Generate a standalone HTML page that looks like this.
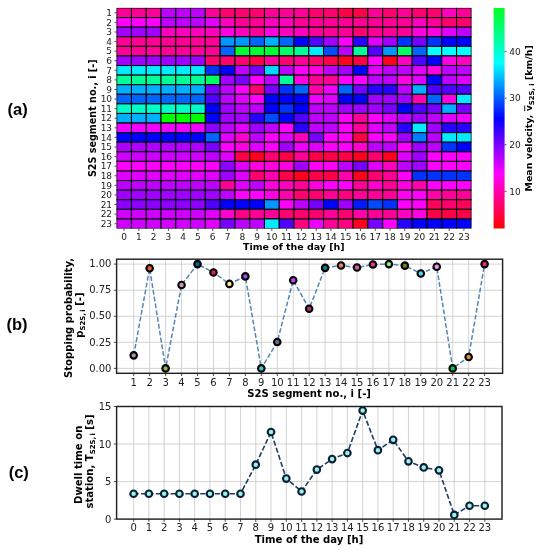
<!DOCTYPE html>
<html><head><meta charset="utf-8"><title>figure</title>
<style>
html,body{margin:0;padding:0;background:#fff;}
svg{display:block;}
text{font-family:"DejaVu Sans","Liberation Sans",sans-serif;fill:#222;}
.t{font-size:9.0px;}
.b{font-size:9.45px;font-weight:bold;fill:#000;}
.b2{font-size:10.1px;font-weight:bold;fill:#000;}
.t2{font-size:10px;}
.s2{font-size:6.9px;font-weight:bold;fill:#000;}
.s{font-size:6.8px;font-weight:bold;fill:#000;}
.p{font-family:"Liberation Sans",sans-serif;font-size:16.5px;font-weight:bold;fill:#000;}
</style></head><body>
<svg width="540" height="550" viewBox="0 0 540 550">
<defs><clipPath id="hc"><rect x="116.40" y="7.70" width="355.20" height="220.80"/></clipPath>
<linearGradient id="cb" x1="0" y1="1" x2="0" y2="0"><stop offset="0" stop-color="#ff0000"/><stop offset="0.25" stop-color="#ff00ff"/><stop offset="0.5" stop-color="#0000ff"/><stop offset="0.75" stop-color="#00ffff"/><stop offset="1" stop-color="#00ff20"/></linearGradient></defs>
<rect width="540" height="550" fill="#fff"/>
<g clip-path="url(#hc)" stroke="#000" stroke-width="1.05">
<rect x="116.70" y="8.00" width="14.78" height="9.59" fill="#ff0096"/><rect x="131.47" y="8.00" width="14.78" height="9.59" fill="#ff0096"/><rect x="146.25" y="8.00" width="14.78" height="9.59" fill="#ff0096"/><rect x="161.03" y="8.00" width="14.78" height="9.59" fill="#be00ff"/><rect x="175.80" y="8.00" width="14.78" height="9.59" fill="#be00ff"/><rect x="190.57" y="8.00" width="14.78" height="9.59" fill="#be00ff"/><rect x="205.35" y="8.00" width="14.78" height="9.59" fill="#ff0096"/><rect x="220.12" y="8.00" width="14.78" height="9.59" fill="#ff006e"/><rect x="234.90" y="8.00" width="14.78" height="9.59" fill="#ff006e"/><rect x="249.68" y="8.00" width="14.78" height="9.59" fill="#ff006e"/><rect x="264.45" y="8.00" width="14.78" height="9.59" fill="#ff0096"/><rect x="279.23" y="8.00" width="14.78" height="9.59" fill="#ff0096"/><rect x="294.00" y="8.00" width="14.78" height="9.59" fill="#ff0096"/><rect x="308.78" y="8.00" width="14.78" height="9.59" fill="#ff006e"/><rect x="323.55" y="8.00" width="14.78" height="9.59" fill="#ff006e"/><rect x="338.32" y="8.00" width="14.78" height="9.59" fill="#ff0046"/><rect x="353.10" y="8.00" width="14.78" height="9.59" fill="#ff0046"/><rect x="367.88" y="8.00" width="14.78" height="9.59" fill="#ff0096"/><rect x="382.65" y="8.00" width="14.78" height="9.59" fill="#ff006e"/><rect x="397.43" y="8.00" width="14.78" height="9.59" fill="#ff0096"/><rect x="412.20" y="8.00" width="14.78" height="9.59" fill="#ff006e"/><rect x="426.98" y="8.00" width="14.78" height="9.59" fill="#ff006e"/><rect x="441.75" y="8.00" width="14.78" height="9.59" fill="#ff00be"/><rect x="456.52" y="8.00" width="14.78" height="9.59" fill="#ff0096"/>
<rect x="116.70" y="17.59" width="14.78" height="9.59" fill="#ff00ff"/><rect x="131.47" y="17.59" width="14.78" height="9.59" fill="#ff00ff"/><rect x="146.25" y="17.59" width="14.78" height="9.59" fill="#ff00ff"/><rect x="161.03" y="17.59" width="14.78" height="9.59" fill="#be00ff"/><rect x="175.80" y="17.59" width="14.78" height="9.59" fill="#be00ff"/><rect x="190.57" y="17.59" width="14.78" height="9.59" fill="#be00ff"/><rect x="205.35" y="17.59" width="14.78" height="9.59" fill="#e100ff"/><rect x="220.12" y="17.59" width="14.78" height="9.59" fill="#ff00be"/><rect x="234.90" y="17.59" width="14.78" height="9.59" fill="#ff0096"/><rect x="249.68" y="17.59" width="14.78" height="9.59" fill="#ff0096"/><rect x="264.45" y="17.59" width="14.78" height="9.59" fill="#ff00be"/><rect x="279.23" y="17.59" width="14.78" height="9.59" fill="#ff00be"/><rect x="294.00" y="17.59" width="14.78" height="9.59" fill="#ff0096"/><rect x="308.78" y="17.59" width="14.78" height="9.59" fill="#ff0096"/><rect x="323.55" y="17.59" width="14.78" height="9.59" fill="#ff0096"/><rect x="338.32" y="17.59" width="14.78" height="9.59" fill="#ff0096"/><rect x="353.10" y="17.59" width="14.78" height="9.59" fill="#ff0096"/><rect x="367.88" y="17.59" width="14.78" height="9.59" fill="#ff0096"/><rect x="382.65" y="17.59" width="14.78" height="9.59" fill="#ff0096"/><rect x="397.43" y="17.59" width="14.78" height="9.59" fill="#ff0096"/><rect x="412.20" y="17.59" width="14.78" height="9.59" fill="#ff00be"/><rect x="426.98" y="17.59" width="14.78" height="9.59" fill="#ff0096"/><rect x="441.75" y="17.59" width="14.78" height="9.59" fill="#ff006e"/><rect x="456.52" y="17.59" width="14.78" height="9.59" fill="#ff006e"/>
<rect x="116.70" y="27.17" width="14.78" height="9.59" fill="#a000ff"/><rect x="131.47" y="27.17" width="14.78" height="9.59" fill="#a000ff"/><rect x="146.25" y="27.17" width="14.78" height="9.59" fill="#a000ff"/><rect x="161.03" y="27.17" width="14.78" height="9.59" fill="#ff00be"/><rect x="175.80" y="27.17" width="14.78" height="9.59" fill="#ff00be"/><rect x="190.57" y="27.17" width="14.78" height="9.59" fill="#ff00be"/><rect x="205.35" y="27.17" width="14.78" height="9.59" fill="#ff00be"/><rect x="220.12" y="27.17" width="14.78" height="9.59" fill="#ff00e1"/><rect x="234.90" y="27.17" width="14.78" height="9.59" fill="#ff00be"/><rect x="249.68" y="27.17" width="14.78" height="9.59" fill="#ff0096"/><rect x="264.45" y="27.17" width="14.78" height="9.59" fill="#ff00e1"/><rect x="279.23" y="27.17" width="14.78" height="9.59" fill="#ff00be"/><rect x="294.00" y="27.17" width="14.78" height="9.59" fill="#ff00be"/><rect x="308.78" y="27.17" width="14.78" height="9.59" fill="#ff0096"/><rect x="323.55" y="27.17" width="14.78" height="9.59" fill="#ff0096"/><rect x="338.32" y="27.17" width="14.78" height="9.59" fill="#ff0096"/><rect x="353.10" y="27.17" width="14.78" height="9.59" fill="#ff006e"/><rect x="367.88" y="27.17" width="14.78" height="9.59" fill="#ff0096"/><rect x="382.65" y="27.17" width="14.78" height="9.59" fill="#ff0096"/><rect x="397.43" y="27.17" width="14.78" height="9.59" fill="#ff0096"/><rect x="412.20" y="27.17" width="14.78" height="9.59" fill="#ff00e1"/><rect x="426.98" y="27.17" width="14.78" height="9.59" fill="#ff00e1"/><rect x="441.75" y="27.17" width="14.78" height="9.59" fill="#e100ff"/><rect x="456.52" y="27.17" width="14.78" height="9.59" fill="#be00ff"/>
<rect x="116.70" y="36.76" width="14.78" height="9.59" fill="#ff0096"/><rect x="131.47" y="36.76" width="14.78" height="9.59" fill="#ff0096"/><rect x="146.25" y="36.76" width="14.78" height="9.59" fill="#ff0096"/><rect x="161.03" y="36.76" width="14.78" height="9.59" fill="#ff0096"/><rect x="175.80" y="36.76" width="14.78" height="9.59" fill="#ff0096"/><rect x="190.57" y="36.76" width="14.78" height="9.59" fill="#ff0096"/><rect x="205.35" y="36.76" width="14.78" height="9.59" fill="#ff0096"/><rect x="220.12" y="36.76" width="14.78" height="9.59" fill="#0096ff"/><rect x="234.90" y="36.76" width="14.78" height="9.59" fill="#0096ff"/><rect x="249.68" y="36.76" width="14.78" height="9.59" fill="#0064ff"/><rect x="264.45" y="36.76" width="14.78" height="9.59" fill="#00afff"/><rect x="279.23" y="36.76" width="14.78" height="9.59" fill="#0064ff"/><rect x="294.00" y="36.76" width="14.78" height="9.59" fill="#0000ff"/><rect x="308.78" y="36.76" width="14.78" height="9.59" fill="#5000ff"/><rect x="323.55" y="36.76" width="14.78" height="9.59" fill="#a000ff"/><rect x="338.32" y="36.76" width="14.78" height="9.59" fill="#ff00ff"/><rect x="353.10" y="36.76" width="14.78" height="9.59" fill="#2800ff"/><rect x="367.88" y="36.76" width="14.78" height="9.59" fill="#e100ff"/><rect x="382.65" y="36.76" width="14.78" height="9.59" fill="#a000ff"/><rect x="397.43" y="36.76" width="14.78" height="9.59" fill="#0032ff"/><rect x="412.20" y="36.76" width="14.78" height="9.59" fill="#7800ff"/><rect x="426.98" y="36.76" width="14.78" height="9.59" fill="#0032ff"/><rect x="441.75" y="36.76" width="14.78" height="9.59" fill="#0000ff"/><rect x="456.52" y="36.76" width="14.78" height="9.59" fill="#0000ff"/>
<rect x="116.70" y="46.35" width="14.78" height="9.59" fill="#ff0096"/><rect x="131.47" y="46.35" width="14.78" height="9.59" fill="#ff0096"/><rect x="146.25" y="46.35" width="14.78" height="9.59" fill="#ff0096"/><rect x="161.03" y="46.35" width="14.78" height="9.59" fill="#ff0096"/><rect x="175.80" y="46.35" width="14.78" height="9.59" fill="#ff0096"/><rect x="190.57" y="46.35" width="14.78" height="9.59" fill="#ff0096"/><rect x="205.35" y="46.35" width="14.78" height="9.59" fill="#ff0096"/><rect x="220.12" y="46.35" width="14.78" height="9.59" fill="#0064ff"/><rect x="234.90" y="46.35" width="14.78" height="9.59" fill="#00ff32"/><rect x="249.68" y="46.35" width="14.78" height="9.59" fill="#00ff32"/><rect x="264.45" y="46.35" width="14.78" height="9.59" fill="#00ff32"/><rect x="279.23" y="46.35" width="14.78" height="9.59" fill="#00ff64"/><rect x="294.00" y="46.35" width="14.78" height="9.59" fill="#00ff96"/><rect x="308.78" y="46.35" width="14.78" height="9.59" fill="#00ebff"/><rect x="323.55" y="46.35" width="14.78" height="9.59" fill="#004bff"/><rect x="338.32" y="46.35" width="14.78" height="9.59" fill="#be00ff"/><rect x="353.10" y="46.35" width="14.78" height="9.59" fill="#00ff96"/><rect x="367.88" y="46.35" width="14.78" height="9.59" fill="#5000ff"/><rect x="382.65" y="46.35" width="14.78" height="9.59" fill="#0096ff"/><rect x="397.43" y="46.35" width="14.78" height="9.59" fill="#00ff64"/><rect x="412.20" y="46.35" width="14.78" height="9.59" fill="#0064ff"/><rect x="426.98" y="46.35" width="14.78" height="9.59" fill="#00ffff"/><rect x="441.75" y="46.35" width="14.78" height="9.59" fill="#00ffff"/><rect x="456.52" y="46.35" width="14.78" height="9.59" fill="#00ffff"/>
<rect x="116.70" y="55.93" width="14.78" height="9.59" fill="#a000ff"/><rect x="131.47" y="55.93" width="14.78" height="9.59" fill="#a000ff"/><rect x="146.25" y="55.93" width="14.78" height="9.59" fill="#a000ff"/><rect x="161.03" y="55.93" width="14.78" height="9.59" fill="#a000ff"/><rect x="175.80" y="55.93" width="14.78" height="9.59" fill="#a000ff"/><rect x="190.57" y="55.93" width="14.78" height="9.59" fill="#a000ff"/><rect x="205.35" y="55.93" width="14.78" height="9.59" fill="#ff006e"/><rect x="220.12" y="55.93" width="14.78" height="9.59" fill="#ff006e"/><rect x="234.90" y="55.93" width="14.78" height="9.59" fill="#ff006e"/><rect x="249.68" y="55.93" width="14.78" height="9.59" fill="#ff0046"/><rect x="264.45" y="55.93" width="14.78" height="9.59" fill="#ff0096"/><rect x="279.23" y="55.93" width="14.78" height="9.59" fill="#ff006e"/><rect x="294.00" y="55.93" width="14.78" height="9.59" fill="#ff0096"/><rect x="308.78" y="55.93" width="14.78" height="9.59" fill="#ff006e"/><rect x="323.55" y="55.93" width="14.78" height="9.59" fill="#ff0046"/><rect x="338.32" y="55.93" width="14.78" height="9.59" fill="#ff001e"/><rect x="353.10" y="55.93" width="14.78" height="9.59" fill="#ff0046"/><rect x="367.88" y="55.93" width="14.78" height="9.59" fill="#ff00ff"/><rect x="382.65" y="55.93" width="14.78" height="9.59" fill="#ff001e"/><rect x="397.43" y="55.93" width="14.78" height="9.59" fill="#ff00be"/><rect x="412.20" y="55.93" width="14.78" height="9.59" fill="#5000ff"/><rect x="426.98" y="55.93" width="14.78" height="9.59" fill="#0000ff"/><rect x="441.75" y="55.93" width="14.78" height="9.59" fill="#ff00e1"/><rect x="456.52" y="55.93" width="14.78" height="9.59" fill="#ff00be"/>
<rect x="116.70" y="65.52" width="14.78" height="9.59" fill="#00ebff"/><rect x="131.47" y="65.52" width="14.78" height="9.59" fill="#00ebff"/><rect x="146.25" y="65.52" width="14.78" height="9.59" fill="#00ebff"/><rect x="161.03" y="65.52" width="14.78" height="9.59" fill="#00ebff"/><rect x="175.80" y="65.52" width="14.78" height="9.59" fill="#00ebff"/><rect x="190.57" y="65.52" width="14.78" height="9.59" fill="#00ebff"/><rect x="205.35" y="65.52" width="14.78" height="9.59" fill="#0032ff"/><rect x="220.12" y="65.52" width="14.78" height="9.59" fill="#0000ff"/><rect x="234.90" y="65.52" width="14.78" height="9.59" fill="#be00ff"/><rect x="249.68" y="65.52" width="14.78" height="9.59" fill="#7800ff"/><rect x="264.45" y="65.52" width="14.78" height="9.59" fill="#00d9ff"/><rect x="279.23" y="65.52" width="14.78" height="9.59" fill="#be00ff"/><rect x="294.00" y="65.52" width="14.78" height="9.59" fill="#ff00ff"/><rect x="308.78" y="65.52" width="14.78" height="9.59" fill="#ff00e1"/><rect x="323.55" y="65.52" width="14.78" height="9.59" fill="#be00ff"/><rect x="338.32" y="65.52" width="14.78" height="9.59" fill="#a000ff"/><rect x="353.10" y="65.52" width="14.78" height="9.59" fill="#0000ff"/><rect x="367.88" y="65.52" width="14.78" height="9.59" fill="#e100ff"/><rect x="382.65" y="65.52" width="14.78" height="9.59" fill="#be00ff"/><rect x="397.43" y="65.52" width="14.78" height="9.59" fill="#be00ff"/><rect x="412.20" y="65.52" width="14.78" height="9.59" fill="#e100ff"/><rect x="426.98" y="65.52" width="14.78" height="9.59" fill="#ff00e1"/><rect x="441.75" y="65.52" width="14.78" height="9.59" fill="#be00ff"/><rect x="456.52" y="65.52" width="14.78" height="9.59" fill="#be00ff"/>
<rect x="116.70" y="75.11" width="14.78" height="9.59" fill="#00ff96"/><rect x="131.47" y="75.11" width="14.78" height="9.59" fill="#00ff96"/><rect x="146.25" y="75.11" width="14.78" height="9.59" fill="#00ff96"/><rect x="161.03" y="75.11" width="14.78" height="9.59" fill="#00ff96"/><rect x="175.80" y="75.11" width="14.78" height="9.59" fill="#00ff96"/><rect x="190.57" y="75.11" width="14.78" height="9.59" fill="#00ff96"/><rect x="205.35" y="75.11" width="14.78" height="9.59" fill="#00ff64"/><rect x="220.12" y="75.11" width="14.78" height="9.59" fill="#a000ff"/><rect x="234.90" y="75.11" width="14.78" height="9.59" fill="#7800ff"/><rect x="249.68" y="75.11" width="14.78" height="9.59" fill="#ff00ff"/><rect x="264.45" y="75.11" width="14.78" height="9.59" fill="#be00ff"/><rect x="279.23" y="75.11" width="14.78" height="9.59" fill="#00ff96"/><rect x="294.00" y="75.11" width="14.78" height="9.59" fill="#ff00e1"/><rect x="308.78" y="75.11" width="14.78" height="9.59" fill="#ff0096"/><rect x="323.55" y="75.11" width="14.78" height="9.59" fill="#ff0096"/><rect x="338.32" y="75.11" width="14.78" height="9.59" fill="#ff00ff"/><rect x="353.10" y="75.11" width="14.78" height="9.59" fill="#ff00ff"/><rect x="367.88" y="75.11" width="14.78" height="9.59" fill="#be00ff"/><rect x="382.65" y="75.11" width="14.78" height="9.59" fill="#be00ff"/><rect x="397.43" y="75.11" width="14.78" height="9.59" fill="#ff00e1"/><rect x="412.20" y="75.11" width="14.78" height="9.59" fill="#e100ff"/><rect x="426.98" y="75.11" width="14.78" height="9.59" fill="#0000ff"/><rect x="441.75" y="75.11" width="14.78" height="9.59" fill="#be00ff"/><rect x="456.52" y="75.11" width="14.78" height="9.59" fill="#e100ff"/>
<rect x="116.70" y="84.70" width="14.78" height="9.59" fill="#00afff"/><rect x="131.47" y="84.70" width="14.78" height="9.59" fill="#00afff"/><rect x="146.25" y="84.70" width="14.78" height="9.59" fill="#00afff"/><rect x="161.03" y="84.70" width="14.78" height="9.59" fill="#00afff"/><rect x="175.80" y="84.70" width="14.78" height="9.59" fill="#00afff"/><rect x="190.57" y="84.70" width="14.78" height="9.59" fill="#00afff"/><rect x="205.35" y="84.70" width="14.78" height="9.59" fill="#7800ff"/><rect x="220.12" y="84.70" width="14.78" height="9.59" fill="#be00ff"/><rect x="234.90" y="84.70" width="14.78" height="9.59" fill="#ff00ff"/><rect x="249.68" y="84.70" width="14.78" height="9.59" fill="#ff006e"/><rect x="264.45" y="84.70" width="14.78" height="9.59" fill="#7800ff"/><rect x="279.23" y="84.70" width="14.78" height="9.59" fill="#0032ff"/><rect x="294.00" y="84.70" width="14.78" height="9.59" fill="#0064ff"/><rect x="308.78" y="84.70" width="14.78" height="9.59" fill="#ff00aa"/><rect x="323.55" y="84.70" width="14.78" height="9.59" fill="#f000ff"/><rect x="338.32" y="84.70" width="14.78" height="9.59" fill="#0064ff"/><rect x="353.10" y="84.70" width="14.78" height="9.59" fill="#7800ff"/><rect x="367.88" y="84.70" width="14.78" height="9.59" fill="#2800ff"/><rect x="382.65" y="84.70" width="14.78" height="9.59" fill="#2800ff"/><rect x="397.43" y="84.70" width="14.78" height="9.59" fill="#be00ff"/><rect x="412.20" y="84.70" width="14.78" height="9.59" fill="#00afff"/><rect x="426.98" y="84.70" width="14.78" height="9.59" fill="#5000ff"/><rect x="441.75" y="84.70" width="14.78" height="9.59" fill="#5000ff"/><rect x="456.52" y="84.70" width="14.78" height="9.59" fill="#5000ff"/>
<rect x="116.70" y="94.28" width="14.78" height="9.59" fill="#0064ff"/><rect x="131.47" y="94.28" width="14.78" height="9.59" fill="#0064ff"/><rect x="146.25" y="94.28" width="14.78" height="9.59" fill="#0064ff"/><rect x="161.03" y="94.28" width="14.78" height="9.59" fill="#0064ff"/><rect x="175.80" y="94.28" width="14.78" height="9.59" fill="#0064ff"/><rect x="190.57" y="94.28" width="14.78" height="9.59" fill="#0064ff"/><rect x="205.35" y="94.28" width="14.78" height="9.59" fill="#5000ff"/><rect x="220.12" y="94.28" width="14.78" height="9.59" fill="#be00ff"/><rect x="234.90" y="94.28" width="14.78" height="9.59" fill="#e100ff"/><rect x="249.68" y="94.28" width="14.78" height="9.59" fill="#ff00ff"/><rect x="264.45" y="94.28" width="14.78" height="9.59" fill="#0000ff"/><rect x="279.23" y="94.28" width="14.78" height="9.59" fill="#0000ff"/><rect x="294.00" y="94.28" width="14.78" height="9.59" fill="#0000ff"/><rect x="308.78" y="94.28" width="14.78" height="9.59" fill="#f000ff"/><rect x="323.55" y="94.28" width="14.78" height="9.59" fill="#e100ff"/><rect x="338.32" y="94.28" width="14.78" height="9.59" fill="#0000ff"/><rect x="353.10" y="94.28" width="14.78" height="9.59" fill="#0000ff"/><rect x="367.88" y="94.28" width="14.78" height="9.59" fill="#a000ff"/><rect x="382.65" y="94.28" width="14.78" height="9.59" fill="#a000ff"/><rect x="397.43" y="94.28" width="14.78" height="9.59" fill="#a000ff"/><rect x="412.20" y="94.28" width="14.78" height="9.59" fill="#ff00aa"/><rect x="426.98" y="94.28" width="14.78" height="9.59" fill="#0064ff"/><rect x="441.75" y="94.28" width="14.78" height="9.59" fill="#ff00e1"/><rect x="456.52" y="94.28" width="14.78" height="9.59" fill="#00ebff"/>
<rect x="116.70" y="103.87" width="14.78" height="9.59" fill="#00ffc8"/><rect x="131.47" y="103.87" width="14.78" height="9.59" fill="#00ffc8"/><rect x="146.25" y="103.87" width="14.78" height="9.59" fill="#00ffc8"/><rect x="161.03" y="103.87" width="14.78" height="9.59" fill="#00ffc8"/><rect x="175.80" y="103.87" width="14.78" height="9.59" fill="#00ffc8"/><rect x="190.57" y="103.87" width="14.78" height="9.59" fill="#00ffc8"/><rect x="205.35" y="103.87" width="14.78" height="9.59" fill="#0000ff"/><rect x="220.12" y="103.87" width="14.78" height="9.59" fill="#a000ff"/><rect x="234.90" y="103.87" width="14.78" height="9.59" fill="#be00ff"/><rect x="249.68" y="103.87" width="14.78" height="9.59" fill="#be00ff"/><rect x="264.45" y="103.87" width="14.78" height="9.59" fill="#0000ff"/><rect x="279.23" y="103.87" width="14.78" height="9.59" fill="#0032ff"/><rect x="294.00" y="103.87" width="14.78" height="9.59" fill="#0000ff"/><rect x="308.78" y="103.87" width="14.78" height="9.59" fill="#be00ff"/><rect x="323.55" y="103.87" width="14.78" height="9.59" fill="#be00ff"/><rect x="338.32" y="103.87" width="14.78" height="9.59" fill="#a000ff"/><rect x="353.10" y="103.87" width="14.78" height="9.59" fill="#a000ff"/><rect x="367.88" y="103.87" width="14.78" height="9.59" fill="#a000ff"/><rect x="382.65" y="103.87" width="14.78" height="9.59" fill="#7800ff"/><rect x="397.43" y="103.87" width="14.78" height="9.59" fill="#0000ff"/><rect x="412.20" y="103.87" width="14.78" height="9.59" fill="#5000ff"/><rect x="426.98" y="103.87" width="14.78" height="9.59" fill="#7800ff"/><rect x="441.75" y="103.87" width="14.78" height="9.59" fill="#00afff"/><rect x="456.52" y="103.87" width="14.78" height="9.59" fill="#7800ff"/>
<rect x="116.70" y="113.46" width="14.78" height="9.59" fill="#00afff"/><rect x="131.47" y="113.46" width="14.78" height="9.59" fill="#00afff"/><rect x="146.25" y="113.46" width="14.78" height="9.59" fill="#00afff"/><rect x="161.03" y="113.46" width="14.78" height="9.59" fill="#00ff00"/><rect x="175.80" y="113.46" width="14.78" height="9.59" fill="#00ff00"/><rect x="190.57" y="113.46" width="14.78" height="9.59" fill="#00ff00"/><rect x="205.35" y="113.46" width="14.78" height="9.59" fill="#0000ff"/><rect x="220.12" y="113.46" width="14.78" height="9.59" fill="#a000ff"/><rect x="234.90" y="113.46" width="14.78" height="9.59" fill="#a000ff"/><rect x="249.68" y="113.46" width="14.78" height="9.59" fill="#2800ff"/><rect x="264.45" y="113.46" width="14.78" height="9.59" fill="#004bff"/><rect x="279.23" y="113.46" width="14.78" height="9.59" fill="#0000ff"/><rect x="294.00" y="113.46" width="14.78" height="9.59" fill="#5000ff"/><rect x="308.78" y="113.46" width="14.78" height="9.59" fill="#be00ff"/><rect x="323.55" y="113.46" width="14.78" height="9.59" fill="#be00ff"/><rect x="338.32" y="113.46" width="14.78" height="9.59" fill="#ff00ff"/><rect x="353.10" y="113.46" width="14.78" height="9.59" fill="#ff0096"/><rect x="367.88" y="113.46" width="14.78" height="9.59" fill="#ff00ff"/><rect x="382.65" y="113.46" width="14.78" height="9.59" fill="#e100ff"/><rect x="397.43" y="113.46" width="14.78" height="9.59" fill="#be00ff"/><rect x="412.20" y="113.46" width="14.78" height="9.59" fill="#a000ff"/><rect x="426.98" y="113.46" width="14.78" height="9.59" fill="#be00ff"/><rect x="441.75" y="113.46" width="14.78" height="9.59" fill="#e100ff"/><rect x="456.52" y="113.46" width="14.78" height="9.59" fill="#f000ff"/>
<rect x="116.70" y="123.04" width="14.78" height="9.59" fill="#f000ff"/><rect x="131.47" y="123.04" width="14.78" height="9.59" fill="#f000ff"/><rect x="146.25" y="123.04" width="14.78" height="9.59" fill="#f000ff"/><rect x="161.03" y="123.04" width="14.78" height="9.59" fill="#f000ff"/><rect x="175.80" y="123.04" width="14.78" height="9.59" fill="#f000ff"/><rect x="190.57" y="123.04" width="14.78" height="9.59" fill="#f000ff"/><rect x="205.35" y="123.04" width="14.78" height="9.59" fill="#8c00ff"/><rect x="220.12" y="123.04" width="14.78" height="9.59" fill="#be00ff"/><rect x="234.90" y="123.04" width="14.78" height="9.59" fill="#e100ff"/><rect x="249.68" y="123.04" width="14.78" height="9.59" fill="#a000ff"/><rect x="264.45" y="123.04" width="14.78" height="9.59" fill="#be00ff"/><rect x="279.23" y="123.04" width="14.78" height="9.59" fill="#ff00ff"/><rect x="294.00" y="123.04" width="14.78" height="9.59" fill="#2800ff"/><rect x="308.78" y="123.04" width="14.78" height="9.59" fill="#be00ff"/><rect x="323.55" y="123.04" width="14.78" height="9.59" fill="#be00ff"/><rect x="338.32" y="123.04" width="14.78" height="9.59" fill="#ff00ff"/><rect x="353.10" y="123.04" width="14.78" height="9.59" fill="#ff0096"/><rect x="367.88" y="123.04" width="14.78" height="9.59" fill="#e100ff"/><rect x="382.65" y="123.04" width="14.78" height="9.59" fill="#be00ff"/><rect x="397.43" y="123.04" width="14.78" height="9.59" fill="#2800ff"/><rect x="412.20" y="123.04" width="14.78" height="9.59" fill="#00ebff"/><rect x="426.98" y="123.04" width="14.78" height="9.59" fill="#a000ff"/><rect x="441.75" y="123.04" width="14.78" height="9.59" fill="#2800ff"/><rect x="456.52" y="123.04" width="14.78" height="9.59" fill="#2800ff"/>
<rect x="116.70" y="132.63" width="14.78" height="9.59" fill="#0000ff"/><rect x="131.47" y="132.63" width="14.78" height="9.59" fill="#0000ff"/><rect x="146.25" y="132.63" width="14.78" height="9.59" fill="#0000ff"/><rect x="161.03" y="132.63" width="14.78" height="9.59" fill="#0000ff"/><rect x="175.80" y="132.63" width="14.78" height="9.59" fill="#0000ff"/><rect x="190.57" y="132.63" width="14.78" height="9.59" fill="#0000ff"/><rect x="205.35" y="132.63" width="14.78" height="9.59" fill="#0064ff"/><rect x="220.12" y="132.63" width="14.78" height="9.59" fill="#e100ff"/><rect x="234.90" y="132.63" width="14.78" height="9.59" fill="#ff00cf"/><rect x="249.68" y="132.63" width="14.78" height="9.59" fill="#be00ff"/><rect x="264.45" y="132.63" width="14.78" height="9.59" fill="#ff00ff"/><rect x="279.23" y="132.63" width="14.78" height="9.59" fill="#e100ff"/><rect x="294.00" y="132.63" width="14.78" height="9.59" fill="#ff00be"/><rect x="308.78" y="132.63" width="14.78" height="9.59" fill="#7800ff"/><rect x="323.55" y="132.63" width="14.78" height="9.59" fill="#ff00ff"/><rect x="338.32" y="132.63" width="14.78" height="9.59" fill="#ff00ff"/><rect x="353.10" y="132.63" width="14.78" height="9.59" fill="#ff0046"/><rect x="367.88" y="132.63" width="14.78" height="9.59" fill="#ff00ff"/><rect x="382.65" y="132.63" width="14.78" height="9.59" fill="#ff00ff"/><rect x="397.43" y="132.63" width="14.78" height="9.59" fill="#a000ff"/><rect x="412.20" y="132.63" width="14.78" height="9.59" fill="#007dff"/><rect x="426.98" y="132.63" width="14.78" height="9.59" fill="#be00ff"/><rect x="441.75" y="132.63" width="14.78" height="9.59" fill="#00ebff"/><rect x="456.52" y="132.63" width="14.78" height="9.59" fill="#00ebff"/>
<rect x="116.70" y="142.22" width="14.78" height="9.59" fill="#af00ff"/><rect x="131.47" y="142.22" width="14.78" height="9.59" fill="#af00ff"/><rect x="146.25" y="142.22" width="14.78" height="9.59" fill="#af00ff"/><rect x="161.03" y="142.22" width="14.78" height="9.59" fill="#af00ff"/><rect x="175.80" y="142.22" width="14.78" height="9.59" fill="#af00ff"/><rect x="190.57" y="142.22" width="14.78" height="9.59" fill="#af00ff"/><rect x="205.35" y="142.22" width="14.78" height="9.59" fill="#7800ff"/><rect x="220.12" y="142.22" width="14.78" height="9.59" fill="#ff00ff"/><rect x="234.90" y="142.22" width="14.78" height="9.59" fill="#ff00e1"/><rect x="249.68" y="142.22" width="14.78" height="9.59" fill="#e100ff"/><rect x="264.45" y="142.22" width="14.78" height="9.59" fill="#ff00ff"/><rect x="279.23" y="142.22" width="14.78" height="9.59" fill="#a000ff"/><rect x="294.00" y="142.22" width="14.78" height="9.59" fill="#f000ff"/><rect x="308.78" y="142.22" width="14.78" height="9.59" fill="#e100ff"/><rect x="323.55" y="142.22" width="14.78" height="9.59" fill="#ff00ff"/><rect x="338.32" y="142.22" width="14.78" height="9.59" fill="#ff00ff"/><rect x="353.10" y="142.22" width="14.78" height="9.59" fill="#ff00cf"/><rect x="367.88" y="142.22" width="14.78" height="9.59" fill="#be00ff"/><rect x="382.65" y="142.22" width="14.78" height="9.59" fill="#be00ff"/><rect x="397.43" y="142.22" width="14.78" height="9.59" fill="#ff00ff"/><rect x="412.20" y="142.22" width="14.78" height="9.59" fill="#a000ff"/><rect x="426.98" y="142.22" width="14.78" height="9.59" fill="#be00ff"/><rect x="441.75" y="142.22" width="14.78" height="9.59" fill="#0032ff"/><rect x="456.52" y="142.22" width="14.78" height="9.59" fill="#0000ff"/>
<rect x="116.70" y="151.80" width="14.78" height="9.59" fill="#cf00ff"/><rect x="131.47" y="151.80" width="14.78" height="9.59" fill="#cf00ff"/><rect x="146.25" y="151.80" width="14.78" height="9.59" fill="#cf00ff"/><rect x="161.03" y="151.80" width="14.78" height="9.59" fill="#cf00ff"/><rect x="175.80" y="151.80" width="14.78" height="9.59" fill="#cf00ff"/><rect x="190.57" y="151.80" width="14.78" height="9.59" fill="#cf00ff"/><rect x="205.35" y="151.80" width="14.78" height="9.59" fill="#be00ff"/><rect x="220.12" y="151.80" width="14.78" height="9.59" fill="#e100ff"/><rect x="234.90" y="151.80" width="14.78" height="9.59" fill="#ff0046"/><rect x="249.68" y="151.80" width="14.78" height="9.59" fill="#ff001e"/><rect x="264.45" y="151.80" width="14.78" height="9.59" fill="#ff006e"/><rect x="279.23" y="151.80" width="14.78" height="9.59" fill="#ff0046"/><rect x="294.00" y="151.80" width="14.78" height="9.59" fill="#ff0096"/><rect x="308.78" y="151.80" width="14.78" height="9.59" fill="#ff0046"/><rect x="323.55" y="151.80" width="14.78" height="9.59" fill="#ff0046"/><rect x="338.32" y="151.80" width="14.78" height="9.59" fill="#ff0046"/><rect x="353.10" y="151.80" width="14.78" height="9.59" fill="#ff001e"/><rect x="367.88" y="151.80" width="14.78" height="9.59" fill="#ff006e"/><rect x="382.65" y="151.80" width="14.78" height="9.59" fill="#ff001e"/><rect x="397.43" y="151.80" width="14.78" height="9.59" fill="#e100ff"/><rect x="412.20" y="151.80" width="14.78" height="9.59" fill="#a000ff"/><rect x="426.98" y="151.80" width="14.78" height="9.59" fill="#ff00ff"/><rect x="441.75" y="151.80" width="14.78" height="9.59" fill="#ff00ff"/><rect x="456.52" y="151.80" width="14.78" height="9.59" fill="#ff00ff"/>
<rect x="116.70" y="161.39" width="14.78" height="9.59" fill="#ff00ff"/><rect x="131.47" y="161.39" width="14.78" height="9.59" fill="#ff00ff"/><rect x="146.25" y="161.39" width="14.78" height="9.59" fill="#ff00ff"/><rect x="161.03" y="161.39" width="14.78" height="9.59" fill="#ff00ff"/><rect x="175.80" y="161.39" width="14.78" height="9.59" fill="#ff00ff"/><rect x="190.57" y="161.39" width="14.78" height="9.59" fill="#ff00ff"/><rect x="205.35" y="161.39" width="14.78" height="9.59" fill="#ff00ff"/><rect x="220.12" y="161.39" width="14.78" height="9.59" fill="#8c00ff"/><rect x="234.90" y="161.39" width="14.78" height="9.59" fill="#e100ff"/><rect x="249.68" y="161.39" width="14.78" height="9.59" fill="#ff00e1"/><rect x="264.45" y="161.39" width="14.78" height="9.59" fill="#ff00e1"/><rect x="279.23" y="161.39" width="14.78" height="9.59" fill="#ff00e1"/><rect x="294.00" y="161.39" width="14.78" height="9.59" fill="#a000ff"/><rect x="308.78" y="161.39" width="14.78" height="9.59" fill="#ff00ff"/><rect x="323.55" y="161.39" width="14.78" height="9.59" fill="#ff00ff"/><rect x="338.32" y="161.39" width="14.78" height="9.59" fill="#be00ff"/><rect x="353.10" y="161.39" width="14.78" height="9.59" fill="#7800ff"/><rect x="367.88" y="161.39" width="14.78" height="9.59" fill="#e100ff"/><rect x="382.65" y="161.39" width="14.78" height="9.59" fill="#ff00be"/><rect x="397.43" y="161.39" width="14.78" height="9.59" fill="#be00ff"/><rect x="412.20" y="161.39" width="14.78" height="9.59" fill="#a000ff"/><rect x="426.98" y="161.39" width="14.78" height="9.59" fill="#ff00ff"/><rect x="441.75" y="161.39" width="14.78" height="9.59" fill="#ff00ff"/><rect x="456.52" y="161.39" width="14.78" height="9.59" fill="#ff00ff"/>
<rect x="116.70" y="170.98" width="14.78" height="9.59" fill="#e100ff"/><rect x="131.47" y="170.98" width="14.78" height="9.59" fill="#e100ff"/><rect x="146.25" y="170.98" width="14.78" height="9.59" fill="#e100ff"/><rect x="161.03" y="170.98" width="14.78" height="9.59" fill="#e100ff"/><rect x="175.80" y="170.98" width="14.78" height="9.59" fill="#e100ff"/><rect x="190.57" y="170.98" width="14.78" height="9.59" fill="#e100ff"/><rect x="205.35" y="170.98" width="14.78" height="9.59" fill="#e100ff"/><rect x="220.12" y="170.98" width="14.78" height="9.59" fill="#a000ff"/><rect x="234.90" y="170.98" width="14.78" height="9.59" fill="#e100ff"/><rect x="249.68" y="170.98" width="14.78" height="9.59" fill="#ff006e"/><rect x="264.45" y="170.98" width="14.78" height="9.59" fill="#ff00aa"/><rect x="279.23" y="170.98" width="14.78" height="9.59" fill="#ff0046"/><rect x="294.00" y="170.98" width="14.78" height="9.59" fill="#ff001e"/><rect x="308.78" y="170.98" width="14.78" height="9.59" fill="#ff0046"/><rect x="323.55" y="170.98" width="14.78" height="9.59" fill="#ff0046"/><rect x="338.32" y="170.98" width="14.78" height="9.59" fill="#ff00aa"/><rect x="353.10" y="170.98" width="14.78" height="9.59" fill="#ff001e"/><rect x="367.88" y="170.98" width="14.78" height="9.59" fill="#ff006e"/><rect x="382.65" y="170.98" width="14.78" height="9.59" fill="#ff0096"/><rect x="397.43" y="170.98" width="14.78" height="9.59" fill="#ff00ff"/><rect x="412.20" y="170.98" width="14.78" height="9.59" fill="#0032ff"/><rect x="426.98" y="170.98" width="14.78" height="9.59" fill="#0032ff"/><rect x="441.75" y="170.98" width="14.78" height="9.59" fill="#0032ff"/><rect x="456.52" y="170.98" width="14.78" height="9.59" fill="#0032ff"/>
<rect x="116.70" y="180.57" width="14.78" height="9.59" fill="#be00ff"/><rect x="131.47" y="180.57" width="14.78" height="9.59" fill="#be00ff"/><rect x="146.25" y="180.57" width="14.78" height="9.59" fill="#be00ff"/><rect x="161.03" y="180.57" width="14.78" height="9.59" fill="#be00ff"/><rect x="175.80" y="180.57" width="14.78" height="9.59" fill="#be00ff"/><rect x="190.57" y="180.57" width="14.78" height="9.59" fill="#be00ff"/><rect x="205.35" y="180.57" width="14.78" height="9.59" fill="#be00ff"/><rect x="220.12" y="180.57" width="14.78" height="9.59" fill="#ff0096"/><rect x="234.90" y="180.57" width="14.78" height="9.59" fill="#e100ff"/><rect x="249.68" y="180.57" width="14.78" height="9.59" fill="#be00ff"/><rect x="264.45" y="180.57" width="14.78" height="9.59" fill="#ff00e1"/><rect x="279.23" y="180.57" width="14.78" height="9.59" fill="#ff00be"/><rect x="294.00" y="180.57" width="14.78" height="9.59" fill="#ff0096"/><rect x="308.78" y="180.57" width="14.78" height="9.59" fill="#ff00e1"/><rect x="323.55" y="180.57" width="14.78" height="9.59" fill="#ff00ff"/><rect x="338.32" y="180.57" width="14.78" height="9.59" fill="#ff00ff"/><rect x="353.10" y="180.57" width="14.78" height="9.59" fill="#ff0096"/><rect x="367.88" y="180.57" width="14.78" height="9.59" fill="#ff00cf"/><rect x="382.65" y="180.57" width="14.78" height="9.59" fill="#ff0096"/><rect x="397.43" y="180.57" width="14.78" height="9.59" fill="#ff00e1"/><rect x="412.20" y="180.57" width="14.78" height="9.59" fill="#ff00aa"/><rect x="426.98" y="180.57" width="14.78" height="9.59" fill="#ff00ff"/><rect x="441.75" y="180.57" width="14.78" height="9.59" fill="#ff00ff"/><rect x="456.52" y="180.57" width="14.78" height="9.59" fill="#ff00ff"/>
<rect x="116.70" y="190.15" width="14.78" height="9.59" fill="#a000ff"/><rect x="131.47" y="190.15" width="14.78" height="9.59" fill="#a000ff"/><rect x="146.25" y="190.15" width="14.78" height="9.59" fill="#a000ff"/><rect x="161.03" y="190.15" width="14.78" height="9.59" fill="#a000ff"/><rect x="175.80" y="190.15" width="14.78" height="9.59" fill="#a000ff"/><rect x="190.57" y="190.15" width="14.78" height="9.59" fill="#a000ff"/><rect x="205.35" y="190.15" width="14.78" height="9.59" fill="#a000ff"/><rect x="220.12" y="190.15" width="14.78" height="9.59" fill="#be00ff"/><rect x="234.90" y="190.15" width="14.78" height="9.59" fill="#ff00ff"/><rect x="249.68" y="190.15" width="14.78" height="9.59" fill="#ff00ff"/><rect x="264.45" y="190.15" width="14.78" height="9.59" fill="#ff00e1"/><rect x="279.23" y="190.15" width="14.78" height="9.59" fill="#ff00aa"/><rect x="294.00" y="190.15" width="14.78" height="9.59" fill="#ff006e"/><rect x="308.78" y="190.15" width="14.78" height="9.59" fill="#ff006e"/><rect x="323.55" y="190.15" width="14.78" height="9.59" fill="#ff0096"/><rect x="338.32" y="190.15" width="14.78" height="9.59" fill="#ff0082"/><rect x="353.10" y="190.15" width="14.78" height="9.59" fill="#ff0096"/><rect x="367.88" y="190.15" width="14.78" height="9.59" fill="#ff0096"/><rect x="382.65" y="190.15" width="14.78" height="9.59" fill="#ff0096"/><rect x="397.43" y="190.15" width="14.78" height="9.59" fill="#ff00f0"/><rect x="412.20" y="190.15" width="14.78" height="9.59" fill="#ff00ff"/><rect x="426.98" y="190.15" width="14.78" height="9.59" fill="#ff00aa"/><rect x="441.75" y="190.15" width="14.78" height="9.59" fill="#ff0096"/><rect x="456.52" y="190.15" width="14.78" height="9.59" fill="#ff0096"/>
<rect x="116.70" y="199.74" width="14.78" height="9.59" fill="#8c00ff"/><rect x="131.47" y="199.74" width="14.78" height="9.59" fill="#8c00ff"/><rect x="146.25" y="199.74" width="14.78" height="9.59" fill="#8c00ff"/><rect x="161.03" y="199.74" width="14.78" height="9.59" fill="#8c00ff"/><rect x="175.80" y="199.74" width="14.78" height="9.59" fill="#8c00ff"/><rect x="190.57" y="199.74" width="14.78" height="9.59" fill="#8c00ff"/><rect x="205.35" y="199.74" width="14.78" height="9.59" fill="#5000ff"/><rect x="220.12" y="199.74" width="14.78" height="9.59" fill="#0000ff"/><rect x="234.90" y="199.74" width="14.78" height="9.59" fill="#0000ff"/><rect x="249.68" y="199.74" width="14.78" height="9.59" fill="#0000ff"/><rect x="264.45" y="199.74" width="14.78" height="9.59" fill="#0096ff"/><rect x="279.23" y="199.74" width="14.78" height="9.59" fill="#ff00ff"/><rect x="294.00" y="199.74" width="14.78" height="9.59" fill="#be00ff"/><rect x="308.78" y="199.74" width="14.78" height="9.59" fill="#7800ff"/><rect x="323.55" y="199.74" width="14.78" height="9.59" fill="#0000ff"/><rect x="338.32" y="199.74" width="14.78" height="9.59" fill="#a000ff"/><rect x="353.10" y="199.74" width="14.78" height="9.59" fill="#0019ff"/><rect x="367.88" y="199.74" width="14.78" height="9.59" fill="#004bff"/><rect x="382.65" y="199.74" width="14.78" height="9.59" fill="#0032ff"/><rect x="397.43" y="199.74" width="14.78" height="9.59" fill="#ff00ff"/><rect x="412.20" y="199.74" width="14.78" height="9.59" fill="#ff00ff"/><rect x="426.98" y="199.74" width="14.78" height="9.59" fill="#ff005a"/><rect x="441.75" y="199.74" width="14.78" height="9.59" fill="#ff006e"/><rect x="456.52" y="199.74" width="14.78" height="9.59" fill="#ff005a"/>
<rect x="116.70" y="209.33" width="14.78" height="9.59" fill="#cf00ff"/><rect x="131.47" y="209.33" width="14.78" height="9.59" fill="#cf00ff"/><rect x="146.25" y="209.33" width="14.78" height="9.59" fill="#cf00ff"/><rect x="161.03" y="209.33" width="14.78" height="9.59" fill="#cf00ff"/><rect x="175.80" y="209.33" width="14.78" height="9.59" fill="#cf00ff"/><rect x="190.57" y="209.33" width="14.78" height="9.59" fill="#cf00ff"/><rect x="205.35" y="209.33" width="14.78" height="9.59" fill="#e100ff"/><rect x="220.12" y="209.33" width="14.78" height="9.59" fill="#ff00cf"/><rect x="234.90" y="209.33" width="14.78" height="9.59" fill="#ff0082"/><rect x="249.68" y="209.33" width="14.78" height="9.59" fill="#ff0096"/><rect x="264.45" y="209.33" width="14.78" height="9.59" fill="#ff0096"/><rect x="279.23" y="209.33" width="14.78" height="9.59" fill="#ff006e"/><rect x="294.00" y="209.33" width="14.78" height="9.59" fill="#ff006e"/><rect x="308.78" y="209.33" width="14.78" height="9.59" fill="#ff006e"/><rect x="323.55" y="209.33" width="14.78" height="9.59" fill="#ff0096"/><rect x="338.32" y="209.33" width="14.78" height="9.59" fill="#ff006e"/><rect x="353.10" y="209.33" width="14.78" height="9.59" fill="#ff00aa"/><rect x="367.88" y="209.33" width="14.78" height="9.59" fill="#ff0096"/><rect x="382.65" y="209.33" width="14.78" height="9.59" fill="#ff0096"/><rect x="397.43" y="209.33" width="14.78" height="9.59" fill="#ff00be"/><rect x="412.20" y="209.33" width="14.78" height="9.59" fill="#ff00e1"/><rect x="426.98" y="209.33" width="14.78" height="9.59" fill="#ff0046"/><rect x="441.75" y="209.33" width="14.78" height="9.59" fill="#ff0046"/><rect x="456.52" y="209.33" width="14.78" height="9.59" fill="#ff0046"/>
<rect x="116.70" y="218.91" width="14.78" height="9.59" fill="#cf00ff"/><rect x="131.47" y="218.91" width="14.78" height="9.59" fill="#cf00ff"/><rect x="146.25" y="218.91" width="14.78" height="9.59" fill="#cf00ff"/><rect x="161.03" y="218.91" width="14.78" height="9.59" fill="#cf00ff"/><rect x="175.80" y="218.91" width="14.78" height="9.59" fill="#cf00ff"/><rect x="190.57" y="218.91" width="14.78" height="9.59" fill="#cf00ff"/><rect x="205.35" y="218.91" width="14.78" height="9.59" fill="#e100ff"/><rect x="220.12" y="218.91" width="14.78" height="9.59" fill="#7800ff"/><rect x="234.90" y="218.91" width="14.78" height="9.59" fill="#be00ff"/><rect x="249.68" y="218.91" width="14.78" height="9.59" fill="#be00ff"/><rect x="264.45" y="218.91" width="14.78" height="9.59" fill="#00ebff"/><rect x="279.23" y="218.91" width="14.78" height="9.59" fill="#5000ff"/><rect x="294.00" y="218.91" width="14.78" height="9.59" fill="#ff0082"/><rect x="308.78" y="218.91" width="14.78" height="9.59" fill="#f000ff"/><rect x="323.55" y="218.91" width="14.78" height="9.59" fill="#ff0096"/><rect x="338.32" y="218.91" width="14.78" height="9.59" fill="#ff0082"/><rect x="353.10" y="218.91" width="14.78" height="9.59" fill="#ff001e"/><rect x="367.88" y="218.91" width="14.78" height="9.59" fill="#7800ff"/><rect x="382.65" y="218.91" width="14.78" height="9.59" fill="#ff00ff"/><rect x="397.43" y="218.91" width="14.78" height="9.59" fill="#2800ff"/><rect x="412.20" y="218.91" width="14.78" height="9.59" fill="#0000ff"/><rect x="426.98" y="218.91" width="14.78" height="9.59" fill="#0000ff"/><rect x="441.75" y="218.91" width="14.78" height="9.59" fill="#0000ff"/><rect x="456.52" y="218.91" width="14.78" height="9.59" fill="#0000ff"/>
</g>
<g stroke="#222" stroke-width="0.8"><line x1="114.50" y1="12.79" x2="116.70" y2="12.79"/><line x1="114.50" y1="22.38" x2="116.70" y2="22.38"/><line x1="114.50" y1="31.97" x2="116.70" y2="31.97"/><line x1="114.50" y1="41.55" x2="116.70" y2="41.55"/><line x1="114.50" y1="51.14" x2="116.70" y2="51.14"/><line x1="114.50" y1="60.73" x2="116.70" y2="60.73"/><line x1="114.50" y1="70.32" x2="116.70" y2="70.32"/><line x1="114.50" y1="79.90" x2="116.70" y2="79.90"/><line x1="114.50" y1="89.49" x2="116.70" y2="89.49"/><line x1="114.50" y1="99.08" x2="116.70" y2="99.08"/><line x1="114.50" y1="108.66" x2="116.70" y2="108.66"/><line x1="114.50" y1="118.25" x2="116.70" y2="118.25"/><line x1="114.50" y1="127.84" x2="116.70" y2="127.84"/><line x1="114.50" y1="137.42" x2="116.70" y2="137.42"/><line x1="114.50" y1="147.01" x2="116.70" y2="147.01"/><line x1="114.50" y1="156.60" x2="116.70" y2="156.60"/><line x1="114.50" y1="166.18" x2="116.70" y2="166.18"/><line x1="114.50" y1="175.77" x2="116.70" y2="175.77"/><line x1="114.50" y1="185.36" x2="116.70" y2="185.36"/><line x1="114.50" y1="194.95" x2="116.70" y2="194.95"/><line x1="114.50" y1="204.53" x2="116.70" y2="204.53"/><line x1="114.50" y1="214.12" x2="116.70" y2="214.12"/><line x1="114.50" y1="223.71" x2="116.70" y2="223.71"/><line x1="124.09" y1="228.50" x2="124.09" y2="230.90"/><line x1="138.86" y1="228.50" x2="138.86" y2="230.90"/><line x1="153.64" y1="228.50" x2="153.64" y2="230.90"/><line x1="168.41" y1="228.50" x2="168.41" y2="230.90"/><line x1="183.19" y1="228.50" x2="183.19" y2="230.90"/><line x1="197.96" y1="228.50" x2="197.96" y2="230.90"/><line x1="212.74" y1="228.50" x2="212.74" y2="230.90"/><line x1="227.51" y1="228.50" x2="227.51" y2="230.90"/><line x1="242.29" y1="228.50" x2="242.29" y2="230.90"/><line x1="257.06" y1="228.50" x2="257.06" y2="230.90"/><line x1="271.84" y1="228.50" x2="271.84" y2="230.90"/><line x1="286.61" y1="228.50" x2="286.61" y2="230.90"/><line x1="301.39" y1="228.50" x2="301.39" y2="230.90"/><line x1="316.16" y1="228.50" x2="316.16" y2="230.90"/><line x1="330.94" y1="228.50" x2="330.94" y2="230.90"/><line x1="345.71" y1="228.50" x2="345.71" y2="230.90"/><line x1="360.49" y1="228.50" x2="360.49" y2="230.90"/><line x1="375.26" y1="228.50" x2="375.26" y2="230.90"/><line x1="390.04" y1="228.50" x2="390.04" y2="230.90"/><line x1="404.81" y1="228.50" x2="404.81" y2="230.90"/><line x1="419.59" y1="228.50" x2="419.59" y2="230.90"/><line x1="434.36" y1="228.50" x2="434.36" y2="230.90"/><line x1="449.14" y1="228.50" x2="449.14" y2="230.90"/><line x1="463.91" y1="228.50" x2="463.91" y2="230.90"/></g>
<text class="t" x="112.10" y="15.99" text-anchor="end">1</text><text class="t" x="112.10" y="25.58" text-anchor="end">2</text><text class="t" x="112.10" y="35.17" text-anchor="end">3</text><text class="t" x="112.10" y="44.75" text-anchor="end">4</text><text class="t" x="112.10" y="54.34" text-anchor="end">5</text><text class="t" x="112.10" y="63.93" text-anchor="end">6</text><text class="t" x="112.10" y="73.52" text-anchor="end">7</text><text class="t" x="112.10" y="83.10" text-anchor="end">8</text><text class="t" x="112.10" y="92.69" text-anchor="end">9</text><text class="t" x="112.10" y="102.28" text-anchor="end">10</text><text class="t" x="112.10" y="111.86" text-anchor="end">11</text><text class="t" x="112.10" y="121.45" text-anchor="end">12</text><text class="t" x="112.10" y="131.04" text-anchor="end">13</text><text class="t" x="112.10" y="140.62" text-anchor="end">14</text><text class="t" x="112.10" y="150.21" text-anchor="end">15</text><text class="t" x="112.10" y="159.80" text-anchor="end">16</text><text class="t" x="112.10" y="169.38" text-anchor="end">17</text><text class="t" x="112.10" y="178.97" text-anchor="end">18</text><text class="t" x="112.10" y="188.56" text-anchor="end">19</text><text class="t" x="112.10" y="198.15" text-anchor="end">20</text><text class="t" x="112.10" y="207.73" text-anchor="end">21</text><text class="t" x="112.10" y="217.32" text-anchor="end">22</text><text class="t" x="112.10" y="226.91" text-anchor="end">23</text>
<text class="t" x="124.09" y="239.6" text-anchor="middle">0</text><text class="t" x="138.86" y="239.6" text-anchor="middle">1</text><text class="t" x="153.64" y="239.6" text-anchor="middle">2</text><text class="t" x="168.41" y="239.6" text-anchor="middle">3</text><text class="t" x="183.19" y="239.6" text-anchor="middle">4</text><text class="t" x="197.96" y="239.6" text-anchor="middle">5</text><text class="t" x="212.74" y="239.6" text-anchor="middle">6</text><text class="t" x="227.51" y="239.6" text-anchor="middle">7</text><text class="t" x="242.29" y="239.6" text-anchor="middle">8</text><text class="t" x="257.06" y="239.6" text-anchor="middle">9</text><text class="t" x="271.84" y="239.6" text-anchor="middle">10</text><text class="t" x="286.61" y="239.6" text-anchor="middle">11</text><text class="t" x="301.39" y="239.6" text-anchor="middle">12</text><text class="t" x="316.16" y="239.6" text-anchor="middle">13</text><text class="t" x="330.94" y="239.6" text-anchor="middle">14</text><text class="t" x="345.71" y="239.6" text-anchor="middle">15</text><text class="t" x="360.49" y="239.6" text-anchor="middle">16</text><text class="t" x="375.26" y="239.6" text-anchor="middle">17</text><text class="t" x="390.04" y="239.6" text-anchor="middle">18</text><text class="t" x="404.81" y="239.6" text-anchor="middle">19</text><text class="t" x="419.59" y="239.6" text-anchor="middle">20</text><text class="t" x="434.36" y="239.6" text-anchor="middle">21</text><text class="t" x="449.14" y="239.6" text-anchor="middle">22</text><text class="t" x="463.91" y="239.6" text-anchor="middle">23</text>
<text class="b" style="font-size:9.6px" transform="translate(95.9,118.3) rotate(-90)" text-anchor="middle">S2S segment no., i [-]</text>
<text class="b" x="293.8" y="250.4" text-anchor="middle">Time of the day [h]</text>
<rect x="493.60" y="8.00" width="11.00" height="220.50" fill="url(#cb)"/>
<g stroke="#222" stroke-width="0.8"><line x1="504.60" y1="191.30" x2="506.50" y2="191.30"/><line x1="504.60" y1="144.70" x2="506.50" y2="144.70"/><line x1="504.60" y1="98.20" x2="506.50" y2="98.20"/><line x1="504.60" y1="51.60" x2="506.50" y2="51.60"/></g>
<text class="t" x="509.20" y="194.50">10</text><text class="t" x="509.20" y="147.90">20</text><text class="t" x="509.20" y="101.40">30</text><text class="t" x="509.20" y="54.80">40</text>
<text class="b" transform="translate(531.9,45.2) rotate(-90)" text-anchor="end">Mean velocity, v<tspan class="s" dy="1.8">S2S, i</tspan><tspan dy="-1.8"> [km/h]</tspan></text>
<line x1="524.7" y1="111.2" x2="524.7" y2="105.5" stroke="#000" stroke-width="0.9"/>
<g stroke="#c8c8c8" stroke-width="0.8"><line x1="133.70" y1="259.20" x2="133.70" y2="373.30"/><line x1="149.65" y1="259.20" x2="149.65" y2="373.30"/><line x1="165.60" y1="259.20" x2="165.60" y2="373.30"/><line x1="181.55" y1="259.20" x2="181.55" y2="373.30"/><line x1="197.50" y1="259.20" x2="197.50" y2="373.30"/><line x1="213.45" y1="259.20" x2="213.45" y2="373.30"/><line x1="229.40" y1="259.20" x2="229.40" y2="373.30"/><line x1="245.35" y1="259.20" x2="245.35" y2="373.30"/><line x1="261.30" y1="259.20" x2="261.30" y2="373.30"/><line x1="277.25" y1="259.20" x2="277.25" y2="373.30"/><line x1="293.20" y1="259.20" x2="293.20" y2="373.30"/><line x1="309.15" y1="259.20" x2="309.15" y2="373.30"/><line x1="325.10" y1="259.20" x2="325.10" y2="373.30"/><line x1="341.05" y1="259.20" x2="341.05" y2="373.30"/><line x1="357.00" y1="259.20" x2="357.00" y2="373.30"/><line x1="372.95" y1="259.20" x2="372.95" y2="373.30"/><line x1="388.90" y1="259.20" x2="388.90" y2="373.30"/><line x1="404.85" y1="259.20" x2="404.85" y2="373.30"/><line x1="420.80" y1="259.20" x2="420.80" y2="373.30"/><line x1="436.75" y1="259.20" x2="436.75" y2="373.30"/><line x1="452.70" y1="259.20" x2="452.70" y2="373.30"/><line x1="468.65" y1="259.20" x2="468.65" y2="373.30"/><line x1="484.60" y1="259.20" x2="484.60" y2="373.30"/><line x1="116.60" y1="368.40" x2="502.60" y2="368.40"/><line x1="116.60" y1="342.32" x2="502.60" y2="342.32"/><line x1="116.60" y1="316.25" x2="502.60" y2="316.25"/><line x1="116.60" y1="290.18" x2="502.60" y2="290.18"/><line x1="116.60" y1="264.10" x2="502.60" y2="264.10"/></g>
<polyline points="133.70,355.36 149.65,268.27 165.60,368.40 181.55,284.96 197.50,264.10 213.45,272.44 229.40,283.92 245.35,276.41 261.30,368.40 277.25,342.01 293.20,280.27 309.15,308.74 325.10,267.85 341.05,265.46 357.00,267.54 372.95,264.52 388.90,264.10 404.85,265.66 420.80,273.49 436.75,266.71 452.70,368.40 468.65,356.93 484.60,264.10" fill="none" stroke="#5585b5" stroke-width="1.5" stroke-dasharray="4.8 2.1"/>
<g stroke="#000" stroke-width="2.1"><circle cx="133.70" cy="355.36" r="3.25" fill="#aa8caa"/><circle cx="149.65" cy="268.27" r="3.25" fill="#e65a28"/><circle cx="165.60" cy="368.40" r="3.25" fill="#8cb450"/><circle cx="181.55" cy="284.96" r="3.25" fill="#c896aa"/><circle cx="197.50" cy="264.10" r="3.25" fill="#00648c"/><circle cx="213.45" cy="272.44" r="3.25" fill="#dc1e5a"/><circle cx="229.40" cy="283.92" r="3.25" fill="#ffe68c"/><circle cx="245.35" cy="276.41" r="3.25" fill="#9650e6"/><circle cx="261.30" cy="368.40" r="3.25" fill="#3cc8dc"/><circle cx="277.25" cy="342.01" r="3.25" fill="#6e648c"/><circle cx="293.20" cy="280.27" r="3.25" fill="#be46f0"/><circle cx="309.15" cy="308.74" r="3.25" fill="#a03278"/><circle cx="325.10" cy="267.85" r="3.25" fill="#008290"/><circle cx="341.05" cy="265.46" r="3.25" fill="#e6826e"/><circle cx="357.00" cy="267.54" r="3.25" fill="#c86496"/><circle cx="372.95" cy="264.52" r="3.25" fill="#e63282"/><circle cx="388.90" cy="264.10" r="3.25" fill="#82f08c"/><circle cx="404.85" cy="265.66" r="3.25" fill="#6e821e"/><circle cx="420.80" cy="273.49" r="3.25" fill="#46dcf0"/><circle cx="436.75" cy="266.71" r="3.25" fill="#f096f0"/><circle cx="452.70" cy="368.40" r="3.25" fill="#00c846"/><circle cx="468.65" cy="356.93" r="3.25" fill="#dc8c32"/><circle cx="484.60" cy="264.10" r="3.25" fill="#f02878"/></g>
<rect x="116.60" y="259.20" width="386.00" height="114.10" fill="none" stroke="#222" stroke-width="1.45"/>
<g stroke="#222" stroke-width="0.8"><line x1="133.70" y1="373.30" x2="133.70" y2="376.10"/><line x1="149.65" y1="373.30" x2="149.65" y2="376.10"/><line x1="165.60" y1="373.30" x2="165.60" y2="376.10"/><line x1="181.55" y1="373.30" x2="181.55" y2="376.10"/><line x1="197.50" y1="373.30" x2="197.50" y2="376.10"/><line x1="213.45" y1="373.30" x2="213.45" y2="376.10"/><line x1="229.40" y1="373.30" x2="229.40" y2="376.10"/><line x1="245.35" y1="373.30" x2="245.35" y2="376.10"/><line x1="261.30" y1="373.30" x2="261.30" y2="376.10"/><line x1="277.25" y1="373.30" x2="277.25" y2="376.10"/><line x1="293.20" y1="373.30" x2="293.20" y2="376.10"/><line x1="309.15" y1="373.30" x2="309.15" y2="376.10"/><line x1="325.10" y1="373.30" x2="325.10" y2="376.10"/><line x1="341.05" y1="373.30" x2="341.05" y2="376.10"/><line x1="357.00" y1="373.30" x2="357.00" y2="376.10"/><line x1="372.95" y1="373.30" x2="372.95" y2="376.10"/><line x1="388.90" y1="373.30" x2="388.90" y2="376.10"/><line x1="404.85" y1="373.30" x2="404.85" y2="376.10"/><line x1="420.80" y1="373.30" x2="420.80" y2="376.10"/><line x1="436.75" y1="373.30" x2="436.75" y2="376.10"/><line x1="452.70" y1="373.30" x2="452.70" y2="376.10"/><line x1="468.65" y1="373.30" x2="468.65" y2="376.10"/><line x1="484.60" y1="373.30" x2="484.60" y2="376.10"/><line x1="113.80" y1="368.40" x2="116.60" y2="368.40"/><line x1="113.80" y1="342.32" x2="116.60" y2="342.32"/><line x1="113.80" y1="316.25" x2="116.60" y2="316.25"/><line x1="113.80" y1="290.18" x2="116.60" y2="290.18"/><line x1="113.80" y1="264.10" x2="116.60" y2="264.10"/></g>
<text class="t2" x="111.40" y="371.60" text-anchor="end">0.00</text><text class="t2" x="111.40" y="345.52" text-anchor="end">0.25</text><text class="t2" x="111.40" y="319.45" text-anchor="end">0.50</text><text class="t2" x="111.40" y="293.38" text-anchor="end">0.75</text><text class="t2" x="111.40" y="267.30" text-anchor="end">1.00</text>
<text class="t2" x="133.70" y="385.5" text-anchor="middle">1</text><text class="t2" x="149.65" y="385.5" text-anchor="middle">2</text><text class="t2" x="165.60" y="385.5" text-anchor="middle">3</text><text class="t2" x="181.55" y="385.5" text-anchor="middle">4</text><text class="t2" x="197.50" y="385.5" text-anchor="middle">5</text><text class="t2" x="213.45" y="385.5" text-anchor="middle">6</text><text class="t2" x="229.40" y="385.5" text-anchor="middle">7</text><text class="t2" x="245.35" y="385.5" text-anchor="middle">8</text><text class="t2" x="261.30" y="385.5" text-anchor="middle">9</text><text class="t2" x="277.25" y="385.5" text-anchor="middle">10</text><text class="t2" x="293.20" y="385.5" text-anchor="middle">11</text><text class="t2" x="309.15" y="385.5" text-anchor="middle">12</text><text class="t2" x="325.10" y="385.5" text-anchor="middle">13</text><text class="t2" x="341.05" y="385.5" text-anchor="middle">14</text><text class="t2" x="357.00" y="385.5" text-anchor="middle">15</text><text class="t2" x="372.95" y="385.5" text-anchor="middle">16</text><text class="t2" x="388.90" y="385.5" text-anchor="middle">17</text><text class="t2" x="404.85" y="385.5" text-anchor="middle">18</text><text class="t2" x="420.80" y="385.5" text-anchor="middle">19</text><text class="t2" x="436.75" y="385.5" text-anchor="middle">20</text><text class="t2" x="452.70" y="385.5" text-anchor="middle">21</text><text class="t2" x="468.65" y="385.5" text-anchor="middle">22</text><text class="t2" x="484.60" y="385.5" text-anchor="middle">23</text>
<text class="b2" transform="translate(71.8,318) rotate(-90)" text-anchor="middle">Stopping probability,</text>
<text class="b2" transform="translate(83.4,315) rotate(-90)" text-anchor="middle">p<tspan class="s2" dy="1.8">S2S, i</tspan><tspan dy="-1.8"> [-]</tspan></text>
<text class="b2" x="309.1" y="397.2" text-anchor="middle">S2S segment no., i [-]</text>
<g stroke="#c8c8c8" stroke-width="0.8"><line x1="133.60" y1="406.50" x2="133.60" y2="519.10"/><line x1="148.87" y1="406.50" x2="148.87" y2="519.10"/><line x1="164.14" y1="406.50" x2="164.14" y2="519.10"/><line x1="179.41" y1="406.50" x2="179.41" y2="519.10"/><line x1="194.68" y1="406.50" x2="194.68" y2="519.10"/><line x1="209.95" y1="406.50" x2="209.95" y2="519.10"/><line x1="225.22" y1="406.50" x2="225.22" y2="519.10"/><line x1="240.49" y1="406.50" x2="240.49" y2="519.10"/><line x1="255.76" y1="406.50" x2="255.76" y2="519.10"/><line x1="271.03" y1="406.50" x2="271.03" y2="519.10"/><line x1="286.30" y1="406.50" x2="286.30" y2="519.10"/><line x1="301.57" y1="406.50" x2="301.57" y2="519.10"/><line x1="316.84" y1="406.50" x2="316.84" y2="519.10"/><line x1="332.11" y1="406.50" x2="332.11" y2="519.10"/><line x1="347.38" y1="406.50" x2="347.38" y2="519.10"/><line x1="362.65" y1="406.50" x2="362.65" y2="519.10"/><line x1="377.92" y1="406.50" x2="377.92" y2="519.10"/><line x1="393.19" y1="406.50" x2="393.19" y2="519.10"/><line x1="408.46" y1="406.50" x2="408.46" y2="519.10"/><line x1="423.73" y1="406.50" x2="423.73" y2="519.10"/><line x1="439.00" y1="406.50" x2="439.00" y2="519.10"/><line x1="454.27" y1="406.50" x2="454.27" y2="519.10"/><line x1="469.54" y1="406.50" x2="469.54" y2="519.10"/><line x1="484.81" y1="406.50" x2="484.81" y2="519.10"/><line x1="116.60" y1="481.57" x2="502.00" y2="481.57"/><line x1="116.60" y1="444.03" x2="502.00" y2="444.03"/></g>
<polyline points="133.60,493.73 148.87,493.73 164.14,493.73 179.41,493.73 194.68,493.73 209.95,493.73 225.22,493.73 240.49,493.73 255.76,464.68 271.03,432.02 286.30,478.56 301.57,491.48 316.84,469.56 332.11,459.05 347.38,453.04 362.65,410.55 377.92,450.19 393.19,439.83 408.46,461.30 423.73,467.45 439.00,470.31 454.27,514.90 469.54,505.74 484.81,505.74" fill="none" stroke="#1e3c64" stroke-width="1.6" stroke-dasharray="5.2 2.2"/>
<g stroke="#0a1e3c" stroke-width="2.1" fill="#9cf2dc"><circle cx="133.60" cy="493.73" r="3.3"/><circle cx="148.87" cy="493.73" r="3.3"/><circle cx="164.14" cy="493.73" r="3.3"/><circle cx="179.41" cy="493.73" r="3.3"/><circle cx="194.68" cy="493.73" r="3.3"/><circle cx="209.95" cy="493.73" r="3.3"/><circle cx="225.22" cy="493.73" r="3.3"/><circle cx="240.49" cy="493.73" r="3.3"/><circle cx="255.76" cy="464.68" r="3.3"/><circle cx="271.03" cy="432.02" r="3.3"/><circle cx="286.30" cy="478.56" r="3.3"/><circle cx="301.57" cy="491.48" r="3.3"/><circle cx="316.84" cy="469.56" r="3.3"/><circle cx="332.11" cy="459.05" r="3.3"/><circle cx="347.38" cy="453.04" r="3.3"/><circle cx="362.65" cy="410.55" r="3.3"/><circle cx="377.92" cy="450.19" r="3.3"/><circle cx="393.19" cy="439.83" r="3.3"/><circle cx="408.46" cy="461.30" r="3.3"/><circle cx="423.73" cy="467.45" r="3.3"/><circle cx="439.00" cy="470.31" r="3.3"/><circle cx="454.27" cy="514.90" r="3.3"/><circle cx="469.54" cy="505.74" r="3.3"/><circle cx="484.81" cy="505.74" r="3.3"/></g>
<rect x="116.60" y="406.50" width="385.40" height="112.60" fill="none" stroke="#222" stroke-width="1.45"/>
<g stroke="#222" stroke-width="0.8"><line x1="133.60" y1="519.10" x2="133.60" y2="521.90"/><line x1="148.87" y1="519.10" x2="148.87" y2="521.90"/><line x1="164.14" y1="519.10" x2="164.14" y2="521.90"/><line x1="179.41" y1="519.10" x2="179.41" y2="521.90"/><line x1="194.68" y1="519.10" x2="194.68" y2="521.90"/><line x1="209.95" y1="519.10" x2="209.95" y2="521.90"/><line x1="225.22" y1="519.10" x2="225.22" y2="521.90"/><line x1="240.49" y1="519.10" x2="240.49" y2="521.90"/><line x1="255.76" y1="519.10" x2="255.76" y2="521.90"/><line x1="271.03" y1="519.10" x2="271.03" y2="521.90"/><line x1="286.30" y1="519.10" x2="286.30" y2="521.90"/><line x1="301.57" y1="519.10" x2="301.57" y2="521.90"/><line x1="316.84" y1="519.10" x2="316.84" y2="521.90"/><line x1="332.11" y1="519.10" x2="332.11" y2="521.90"/><line x1="347.38" y1="519.10" x2="347.38" y2="521.90"/><line x1="362.65" y1="519.10" x2="362.65" y2="521.90"/><line x1="377.92" y1="519.10" x2="377.92" y2="521.90"/><line x1="393.19" y1="519.10" x2="393.19" y2="521.90"/><line x1="408.46" y1="519.10" x2="408.46" y2="521.90"/><line x1="423.73" y1="519.10" x2="423.73" y2="521.90"/><line x1="439.00" y1="519.10" x2="439.00" y2="521.90"/><line x1="454.27" y1="519.10" x2="454.27" y2="521.90"/><line x1="469.54" y1="519.10" x2="469.54" y2="521.90"/><line x1="484.81" y1="519.10" x2="484.81" y2="521.90"/><line x1="113.80" y1="519.10" x2="116.60" y2="519.10"/><line x1="113.80" y1="481.57" x2="116.60" y2="481.57"/><line x1="113.80" y1="444.03" x2="116.60" y2="444.03"/><line x1="113.80" y1="406.50" x2="116.60" y2="406.50"/></g>
<text class="t2" x="111.40" y="522.90" text-anchor="end">0</text><text class="t2" x="111.40" y="485.37" text-anchor="end">5</text><text class="t2" x="111.40" y="447.83" text-anchor="end">10</text><text class="t2" x="111.40" y="410.30" text-anchor="end">15</text>
<text class="t2" x="133.60" y="531.2" text-anchor="middle">0</text><text class="t2" x="148.87" y="531.2" text-anchor="middle">1</text><text class="t2" x="164.14" y="531.2" text-anchor="middle">2</text><text class="t2" x="179.41" y="531.2" text-anchor="middle">3</text><text class="t2" x="194.68" y="531.2" text-anchor="middle">4</text><text class="t2" x="209.95" y="531.2" text-anchor="middle">5</text><text class="t2" x="225.22" y="531.2" text-anchor="middle">6</text><text class="t2" x="240.49" y="531.2" text-anchor="middle">7</text><text class="t2" x="255.76" y="531.2" text-anchor="middle">8</text><text class="t2" x="271.03" y="531.2" text-anchor="middle">9</text><text class="t2" x="286.30" y="531.2" text-anchor="middle">10</text><text class="t2" x="301.57" y="531.2" text-anchor="middle">11</text><text class="t2" x="316.84" y="531.2" text-anchor="middle">12</text><text class="t2" x="332.11" y="531.2" text-anchor="middle">13</text><text class="t2" x="347.38" y="531.2" text-anchor="middle">14</text><text class="t2" x="362.65" y="531.2" text-anchor="middle">15</text><text class="t2" x="377.92" y="531.2" text-anchor="middle">16</text><text class="t2" x="393.19" y="531.2" text-anchor="middle">17</text><text class="t2" x="408.46" y="531.2" text-anchor="middle">18</text><text class="t2" x="423.73" y="531.2" text-anchor="middle">19</text><text class="t2" x="439.00" y="531.2" text-anchor="middle">20</text><text class="t2" x="454.27" y="531.2" text-anchor="middle">21</text><text class="t2" x="469.54" y="531.2" text-anchor="middle">22</text><text class="t2" x="484.81" y="531.2" text-anchor="middle">23</text>
<text class="b2" transform="translate(81.5,464.8) rotate(-90)" text-anchor="middle">Dwell time on</text>
<text class="b2" transform="translate(92.8,461.5) rotate(-90)" text-anchor="middle">station, T<tspan class="s2" dy="1.8">S2S, i</tspan><tspan dy="-1.8"> [s]</tspan></text>
<text class="b2" x="309" y="543.2" text-anchor="middle">Time of the day [h]</text>
<text class="p" x="7.5" y="115.4">(a)</text>
<text class="p" x="6.5" y="330.3">(b)</text>
<text class="p" x="8.7" y="478.3">(c)</text>
</svg>
</body></html>
